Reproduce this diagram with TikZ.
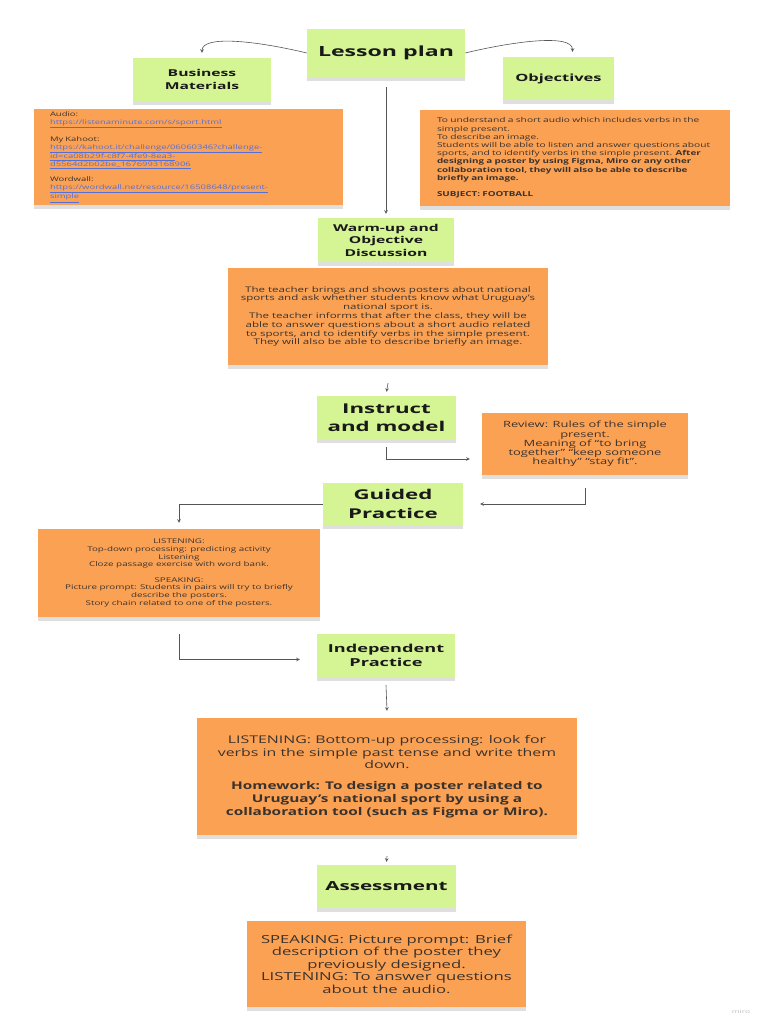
\documentclass[tikz,border=0pt]{standalone}
\usepackage{fontspec}
\setmainfont{Open Sans}[FakeStretch=1.7, BoldFeatures={FakeStretch=1.65}]
\newfontfamily\notefont{Open Sans}[Ligatures=TeX, FakeStretch=1.5, BoldFeatures={FakeStretch=1.45}]
\usetikzlibrary{shadows}

\definecolor{stickygreen}{RGB}{213,244,148}
\definecolor{stickyorange}{RGB}{251,161,84}
\definecolor{notetext}{RGB}{58,50,44}
\definecolor{linkblue}{RGB}{84,112,214}
\definecolor{linegray}{RGB}{85,85,85}

\newcommand{\weblink}[1]{\textcolor{linkblue}{\underline{#1}}}
\newcommand{\fsize}[2]{\fontsize{#1}{#2}\selectfont}

\begin{document}
\begin{tikzpicture}[>=stealth, x=1pt, y=-1pt,
    sticky/.style={inner sep=0pt, align=center,
        drop shadow={shadow xshift=0pt, shadow yshift=-4pt, opacity=0.25}},
    title/.style={sticky, fill=stickygreen, text=black!90},
    note/.style={sticky, fill=stickyorange, text=notetext},
    link/.style={semithick, linegray, ->}]

\useasboundingbox[fill=white] (0,0) rectangle (768,1024);

% top row
\node[title, minimum width=158, minimum height=48, font=\bfseries\fsize{14}{17}]
    (lesson) at (386,53) {Lesson plan};
\node[title, minimum width=138, minimum height=43, font=\bfseries\fsize{9.5}{12.5}]
    (business) at (202,79.5) {Business\\Materials};
\node[title, minimum width=111, minimum height=43, font=\bfseries\fsize{10}{12.5}]
    (objectives) at (558.5,78.5) {Objectives};

\node[note, minimum width=309, minimum height=96, align=left, text width=277,
    inner xsep=16, font=\notefont\fsize{6.3}{7.8}] (materials) at (188.5,157)
    {Audio:\\
     \weblink{https://listenaminute.com/s/sport.html}\\[7.8pt]
     My Kahoot:\\
     \weblink{https://kahoot.it/challenge/06060346?challenge-}\\
     \weblink{id=ca08b29f-c8f7-4fe9-8ea3-}\\
     \weblink{d5564d2b02be\_1676993168906}\\[7.8pt]
     Wordwall:\\
     \weblink{https://wordwall.net/resource/16508648/present-}\\
     \weblink{simple}};

\node[note, minimum width=310, minimum height=96, align=left, text width=276,
    inner xsep=17, font=\notefont\fsize{6.8}{8.2}] (goals) at (575,158)
    {To understand a short audio which includes verbs in the\\
     simple present.\\
     To describe an image.\\
     Students will be able to listen and answer questions about\\
     sports, and to identify verbs in the simple present. \textbf{After}\\
     \textbf{designing a poster by using Figma, Miro or any other}\\
     \textbf{collaboration tool, they will also be able to describe}\\
     \textbf{briefly an image.}\\[8.2pt]
     \textbf{SUBJECT: FOOTBALL}};

% warm-up
\node[title, minimum width=136, minimum height=44, font=\bfseries\fsize{9.5}{12.5}]
    (warmup) at (386,240) {Warm-up and\\Objective\\Discussion};
\node[note, minimum width=320, minimum height=97, font=\notefont\fsize{7.7}{8.8}]
    (warmnote) at (388,316.5)
    {The teacher brings and shows posters about national\\
     sports and ask whether students know what Uruguay's\\
     national sport is.\\
     The teacher informs that after the class, they will be\\
     able to answer questions about a short audio related\\
     to sports, and to identify verbs in the simple present.\\
     They will also be able to describe briefly an image.};

% instruct and guided practice
\node[title, minimum width=139, minimum height=43, font=\bfseries\fsize{13.5}{17.5}]
    (instruct) at (386.5,417.5) {Instruct\\and model};
\node[note, minimum width=206, minimum height=62, font=\notefont\fsize{8.6}{9.2}]
    (review) at (585,444)
    {Review: Rules of the simple\\
     present.\\
     Meaning of ``to bring\\
     together'' ``keep someone\\
     healthy'' ``stay fit''.};
\node[title, minimum width=140, minimum height=42, font=\bfseries\fsize{13.5}{18.5}]
    (guided) at (393,504) {Guided\\Practice};
\node[note, minimum width=282, minimum height=88, font=\notefont\fsize{6.55}{7.7}]
    (listen) at (179,573)
    {LISTENING:\\
     Top-down processing: predicting activity\\
     Listening\\
     Cloze passage exercise with word bank.\\[7.7pt]
     SPEAKING:\\
     Picture prompt: Students in pairs will try to briefly\\
     describe the posters.\\
     Story chain related to one of the posters.};

% independent practice
\node[title, minimum width=138, minimum height=43, font=\bfseries\fsize{11}{14.5}]
    (indep) at (386,655.5) {Independent\\Practice};
\node[note, minimum width=380, minimum height=117, font=\notefont\fsize{10.6}{12.7}]
    (bottomup) at (387,776.5)
    {LISTENING: Bottom-up processing: look for\\
     verbs in the simple past tense and write them\\
     down.\\[8pt]
     \textbf{Homework: To design a poster related to}\\
     \textbf{Uruguay's national sport by using a}\\
     \textbf{collaboration tool (such as Figma or Miro).}};

% assessment
\node[title, minimum width=139, minimum height=43, font=\bfseries\fsize{12.5}{16}]
    (assess) at (386.5,886.5) {Assessment};
\node[note, minimum width=279, minimum height=86, font=\notefont\fsize{11.1}{12.5}]
    (final) at (386.5,964)
    {SPEAKING: Picture prompt: Brief\\
     description of the poster they\\
     previously designed.\\
     LISTENING: To answer questions\\
     about the audio.};

\node[text=black!25, font=\fsize{5}{6}] (miro) at (741,1012) {miro};

% connectors
\draw[link] (lesson.west) .. controls +(-50,-12) and +(0,-18) .. ([yshift=5pt]business.north);
\draw[link] (lesson.east) .. controls +(50,-12) and +(0,-18) .. ([xshift=14pt,yshift=5pt]objectives.north);
\draw[link] ([yshift=-10pt]lesson.south) -- ([yshift=4pt]warmup.north);
\draw[link] ([yshift=-18pt]warmnote.south) -- ([yshift=4pt]instruct.north);
\draw[link] ([yshift=-8pt]instruct.south) |- ([xshift=-12pt,yshift=-15pt]review.west);
\draw[link] ([yshift=-13pt]review.south) |- ([xshift=17pt]guided.east);
\draw[link] (guided.west) -| ([yshift=6pt]listen.north);
\draw[link] ([yshift=-17pt]listen.south) |- ([xshift=-17pt,yshift=-4pt]indep.west);
\draw[link] ([yshift=-8pt]indep.south) -- ([yshift=7pt]bottomup.north);
\draw[link] ([yshift=-21pt]bottomup.south) -- ([yshift=3pt]assess.north);

\end{tikzpicture}
\end{document}
